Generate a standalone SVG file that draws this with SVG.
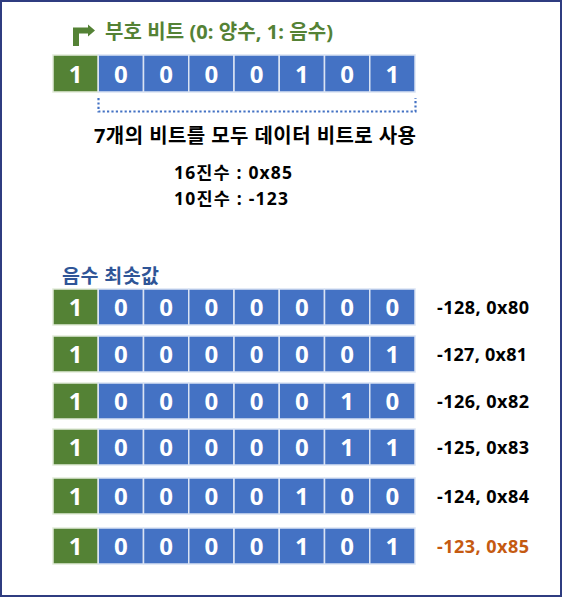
<svg xmlns="http://www.w3.org/2000/svg" width="563" height="598" viewBox="0 0 563 598">
<style>
text{font-family:"Open Sans","Noto Sans CJK KR",sans-serif;font-weight:bold}
.g{fill:#548235;stroke:#E2EBDA;stroke-width:1.5}
.b{fill:#4472C4;stroke:#DAE3F3;stroke-width:1.5}
.d{fill:#FFFFFF;font-size:24px;text-anchor:middle}
.lbl{font-size:18px;fill:#000}
</style>
<defs>
<g id="cells">
<rect class="g" x="53" y="0" width="45.25" height="36"/>
<rect class="b" x="98.25" y="0" width="45.25" height="36"/>
<rect class="b" x="143.5" y="0" width="45.25" height="36"/>
<rect class="b" x="188.75" y="0" width="45.25" height="36"/>
<rect class="b" x="234" y="0" width="45.25" height="36"/>
<rect class="b" x="279.25" y="0" width="45.25" height="36"/>
<rect class="b" x="324.5" y="0" width="45.25" height="36"/>
<rect class="b" x="369.75" y="0" width="45.25" height="36"/>
</g>
</defs>
<rect x="1" y="1" width="560" height="595" fill="#FFFFFF" stroke="#2F3C80" stroke-width="2"/>

<g id="sign-label">
<path d="M73,46 L73,27.5 L88,27.5 L88,24.5 L95,30.5 L88,36.5 L88,33.5 L79,33.5 L79,46 Z" fill="#548235"/>
<text x="105" y="38.5" font-size="20" fill="#548235" textLength="228" lengthAdjust="spacing">부호 비트 (0: 양수, 1: 음수)</text>
</g>

<g id="main-bits">
<use href="#cells" transform="translate(0,55) scale(1,1.028)"/>
<g class="d">
<text x="75.6" y="82.5">1</text><text x="120.9" y="82.5">0</text><text x="166.1" y="82.5">0</text><text x="211.4" y="82.5">0</text><text x="256.6" y="82.5">0</text><text x="301.9" y="82.5">1</text><text x="347.1" y="82.5">0</text><text x="392.4" y="82.5">1</text>
</g>
</g>

<g id="bracket">
<path d="M98.5,98 L98.5,111.5 L415.5,111.5 L415.5,98" fill="none" stroke="#4472C4" stroke-width="2.2" stroke-dasharray="2.2,2.2"/>
<text x="94" y="142.5" font-size="20" fill="#000" textLength="322" lengthAdjust="spacing">7개의 비트를 모두 데이터 비트로 사용</text>
</g>

<g id="values">
<text x="174" y="178.5" font-size="17.5" fill="#000" textLength="118" lengthAdjust="spacing">16진수 : 0x85</text>
<text x="174" y="204.5" font-size="17.5" fill="#000" textLength="114" lengthAdjust="spacing">10진수 : -123</text>
</g>

<g id="neg-title">
<text x="62" y="282.5" font-size="19.5" fill="#2F5597" textLength="97" lengthAdjust="spacing">음수 최솟값</text>
</g>

<g id="row1">
<use href="#cells" y="289"/>
<g class="d"><text x="75.6" y="315.5">1</text><text x="120.9" y="315.5">0</text><text x="166.1" y="315.5">0</text><text x="211.4" y="315.5">0</text><text x="256.6" y="315.5">0</text><text x="301.9" y="315.5">0</text><text x="347.1" y="315.5">0</text><text x="392.4" y="315.5">0</text></g>
<text class="lbl" x="437" y="313.5" textLength="92" lengthAdjust="spacing">-128, 0x80</text>
</g>
<g id="row2">
<use href="#cells" y="336"/>
<g class="d"><text x="75.6" y="362.5">1</text><text x="120.9" y="362.5">0</text><text x="166.1" y="362.5">0</text><text x="211.4" y="362.5">0</text><text x="256.6" y="362.5">0</text><text x="301.9" y="362.5">0</text><text x="347.1" y="362.5">0</text><text x="392.4" y="362.5">1</text></g>
<text class="lbl" x="437" y="360.5" textLength="90" lengthAdjust="spacing">-127, 0x81</text>
</g>
<g id="row3">
<use href="#cells" y="383"/>
<g class="d"><text x="75.6" y="409.5">1</text><text x="120.9" y="409.5">0</text><text x="166.1" y="409.5">0</text><text x="211.4" y="409.5">0</text><text x="256.6" y="409.5">0</text><text x="301.9" y="409.5">0</text><text x="347.1" y="409.5">1</text><text x="392.4" y="409.5">0</text></g>
<text class="lbl" x="437" y="407.5" textLength="92" lengthAdjust="spacing">-126, 0x82</text>
</g>
<g id="row4">
<use href="#cells" y="429"/>
<g class="d"><text x="75.6" y="455.5">1</text><text x="120.9" y="455.5">0</text><text x="166.1" y="455.5">0</text><text x="211.4" y="455.5">0</text><text x="256.6" y="455.5">0</text><text x="301.9" y="455.5">0</text><text x="347.1" y="455.5">1</text><text x="392.4" y="455.5">1</text></g>
<text class="lbl" x="437" y="453.5" textLength="92" lengthAdjust="spacing">-125, 0x83</text>
</g>
<g id="row5">
<use href="#cells" y="478"/>
<g class="d"><text x="75.6" y="504.5">1</text><text x="120.9" y="504.5">0</text><text x="166.1" y="504.5">0</text><text x="211.4" y="504.5">0</text><text x="256.6" y="504.5">0</text><text x="301.9" y="504.5">1</text><text x="347.1" y="504.5">0</text><text x="392.4" y="504.5">0</text></g>
<text class="lbl" x="437" y="502.5" textLength="92" lengthAdjust="spacing">-124, 0x84</text>
</g>
<g id="row6">
<use href="#cells" y="528"/>
<g class="d"><text x="75.6" y="554.5">1</text><text x="120.9" y="554.5">0</text><text x="166.1" y="554.5">0</text><text x="211.4" y="554.5">0</text><text x="256.6" y="554.5">0</text><text x="301.9" y="554.5">1</text><text x="347.1" y="554.5">0</text><text x="392.4" y="554.5">1</text></g>
<text class="lbl" x="437" y="552.5" style="fill:#C55A11" textLength="92" lengthAdjust="spacing">-123, 0x85</text>
</g>
</svg>
